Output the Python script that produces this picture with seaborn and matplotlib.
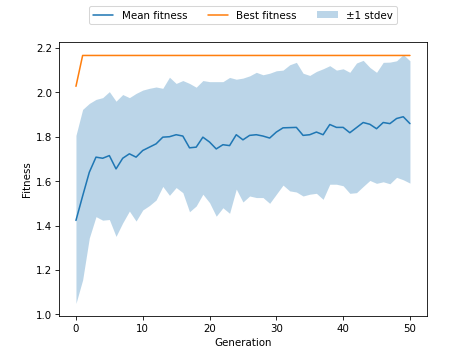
import numpy as np
import matplotlib
matplotlib.use("Agg")
import matplotlib.pyplot as plt
import seaborn as sns

generations = list(range(51))

mean_fitness = [
    1.423, 1.533, 1.640, 1.708, 1.703, 1.715, 1.655, 1.703, 1.723, 1.708,
    1.738, 1.753, 1.768, 1.798, 1.800, 1.809, 1.803, 1.750, 1.753, 1.798,
    1.776, 1.745, 1.764, 1.760, 1.809, 1.786, 1.806, 1.809, 1.803, 1.794,
    1.821, 1.840, 1.841, 1.842, 1.806, 1.809, 1.821, 1.809, 1.855, 1.842,
    1.842, 1.818, 1.841, 1.864, 1.856, 1.836, 1.864, 1.859, 1.882, 1.890,
    1.859,
]

best_fitness = [2.027] + [2.166] * 50

upper_band = [
    1.806, 1.923, 1.950, 1.968, 1.976, 2.003, 1.960, 1.990, 1.976, 1.995,
    2.010, 2.018, 2.024, 2.018, 2.068, 2.040, 2.053, 2.040, 2.023, 2.053,
    2.048, 2.048, 2.048, 2.067, 2.059, 2.064, 2.074, 2.090, 2.079, 2.086,
    2.097, 2.100, 2.124, 2.135, 2.086, 2.076, 2.094, 2.106, 2.120, 2.100,
    2.106, 2.090, 2.132, 2.144, 2.112, 2.090, 2.135, 2.136, 2.142, 2.170,
    2.142,
]

lower_band = [
    1.049, 1.155, 1.344, 1.440, 1.424, 1.427, 1.351, 1.412, 1.465, 1.420,
    1.470, 1.490, 1.515, 1.576, 1.536, 1.571, 1.548, 1.462, 1.488, 1.541,
    1.503, 1.442, 1.480, 1.455, 1.564, 1.506, 1.533, 1.526, 1.526, 1.500,
    1.541, 1.582, 1.556, 1.551, 1.533, 1.541, 1.545, 1.518, 1.586, 1.586,
    1.579, 1.545, 1.548, 1.576, 1.603, 1.590, 1.597, 1.588, 1.617, 1.606,
    1.591,
]

sns.set_style("ticks", rc={
    "axes.edgecolor": "black",
    "axes.labelcolor": "black",
    "text.color": "black",
    "xtick.color": "black",
    "ytick.color": "black",
})
plt.rcParams["font.family"] = ["DejaVu Sans"]

fig, ax = plt.subplots(figsize=(6.4, 4.8), dpi=74.07)
fig.subplots_adjust(left=0.125, right=0.9, bottom=0.11, top=0.88)

blue = "#1f77b4"
orange = "#ff7f0e"

sns.lineplot(x=generations, y=mean_fitness, color=blue, linewidth=1.5,
             label="Mean fitness", ax=ax)
sns.lineplot(x=generations, y=best_fitness, color=orange, linewidth=1.5,
             label="Best fitness", ax=ax)
ax.fill_between(generations, lower_band, upper_band, color=blue, alpha=0.3,
                linewidth=0, label="\u00b11 stdev")

ax.set_xlabel("Generation")
ax.set_ylabel("Fitness")
ax.set_xticks([0, 10, 20, 30, 40, 50])
ax.set_yticks([1.0, 1.2, 1.4, 1.6, 1.8, 2.0, 2.2])

ax.legend(loc="upper center", bbox_to_anchor=(0.5, 1.15), ncol=3)

fig.savefig("out.png", dpi=74.07)
